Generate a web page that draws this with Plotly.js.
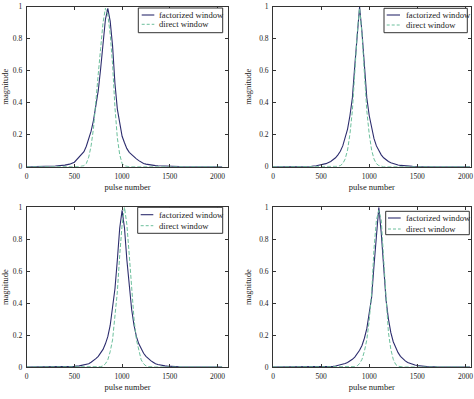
<!DOCTYPE html>
<html>
<head>
<meta charset="utf-8">
<script src="https://cdn.plot.ly/plotly-3.0.1.min.js"></script>
<style>html,body{margin:0;padding:0;background:#fff;}#chart{width:474px;height:399px;}</style>
</head>
<body>
<div id="chart"></div>
<script>
// ---------- data ----------
const pulse = [0,100,200,300,400,450,500,550,600,625,650,675,700,725,750,775,800,825,850,875,900,925,950,975,1000,1025,1050,1075,1100,1125,1150,1175,1200,1225,1250,1275,1300,1325,1350,1375,1400,1425,1450,1475,1500,1550,1600,1700,1800,1900,2000,2048];

const seriesNames = ["factorized window", "direct window"];

// panel 1 (top left)
const p1Factorized = [0,0,0.001,0.004,0.01,0.016,0.028,0.06,0.094,0.128,0.172,0.222,0.29,0.37,0.475,0.612,0.79,0.92,0.99,0.91,0.755,0.52,0.36,0.262,0.19,0.15,0.113,0.09,0.075,0.062,0.049,0.038,0.028,0.02,0.016,0.013,0.01,0.008,0.007,0.006,0.005,0.004,0.003,0.002,0.0015,0.001,0.0005,0,0,0,0,0];
const p1Direct = [0,0,0,0,0,0,0,0.001,0.006,0.02,0.06,0.13,0.24,0.39,0.58,0.74,0.9,0.99,0.95,0.83,0.64,0.37,0.18,0.075,0.02,0.005,0.001,0,0,0,0,0,0,0,0,0,0,0,0,0,0,0,0,0,0,0,0,0,0,0,0,0];

// panel 2 (top right)
const p2Factorized = [0,0,0,0.001,0.003,0.006,0.011,0.019,0.033,0.043,0.056,0.074,0.097,0.13,0.175,0.235,0.32,0.43,0.63,0.84,1.0,0.84,0.63,0.43,0.32,0.235,0.175,0.13,0.097,0.074,0.056,0.043,0.033,0.025,0.019,0.015,0.011,0.008,0.006,0.0045,0.003,0.0025,0.002,0.0015,0.001,0.0007,0.0005,0,0,0,0,0];
const p2Direct = [0,0,0,0,0,0,0,0,0,0,0,0.002,0.007,0.019,0.048,0.104,0.205,0.35,0.585,0.83,0.99,0.83,0.585,0.35,0.205,0.104,0.048,0.019,0.007,0.002,0,0,0,0,0,0,0,0,0,0,0,0,0,0,0,0,0,0,0,0,0,0];

// panel 3 (bottom left)
const p3Factorized = [0,0,0,0,0.0015,0.0028,0.004,0.007,0.012,0.016,0.02,0.03,0.04,0.052,0.067,0.086,0.11,0.145,0.19,0.26,0.36,0.49,0.67,0.87,0.98,0.87,0.67,0.49,0.36,0.26,0.19,0.145,0.11,0.086,0.067,0.052,0.04,0.03,0.02,0.016,0.012,0.0095,0.007,0.0055,0.004,0.0028,0.0015,0,0,0,0,0];
const p3Direct = [0,0,0,0,0,0,0,0,0,0,0,0,0,0,0,0.002,0.007,0.02,0.045,0.096,0.17,0.30,0.47,0.70,0.89,1.0,0.89,0.70,0.47,0.30,0.17,0.096,0.045,0.02,0.007,0.002,0,0,0,0,0,0,0,0,0,0,0,0,0,0,0,0];

// panel 4 (bottom right)
const p4Factorized = [0,0,0,0,0,0.0005,0.001,0.002,0.003,0.004,0.006,0.009,0.013,0.017,0.022,0.028,0.037,0.048,0.062,0.08,0.105,0.135,0.18,0.24,0.325,0.435,0.635,0.84,1.0,0.84,0.62,0.42,0.3,0.215,0.158,0.118,0.09,0.067,0.05,0.038,0.028,0.021,0.016,0.012,0.009,0.005,0.0025,0.0008,0,0,0,0];
const p4Direct = [0,0,0,0,0,0,0,0,0,0,0,0,0,0,0,0,0,0,0.002,0.007,0.021,0.048,0.098,0.17,0.29,0.46,0.74,0.92,0.98,0.92,0.71,0.44,0.215,0.11,0.048,0.016,0.005,0.001,0,0,0,0,0,0,0,0,0,0,0,0,0,0];

const xTickVals = [0,500,1000,1500,2000];
const xTickText = ["0","500","1000","1500","2000"];
const yTickVals = [0,0.2,0.4,0.6,0.8,1];
const yTickText = ["0","0.2","0.4","0.6","0.8","1"];
const xTitle = "pulse number";
const yTitle = "magnitude";

// ---------- styling ----------
const W = 474, H = 399;
const colFact = "#2d2d6e", colDir = "#6cbf9c";
const serif = "Liberation Serif, Times New Roman, serif";
const axColor = "#333";

const panels = [
  {f:p1Factorized, d:p1Direct, xd:[26.7,228.3], yd:[6.7,166.7], xr:2113,
   leg:{box:[138.3,8,222.7,32.7], rows:[15,24.3], line:[141.7,154.3], tx:157}},
  {f:p2Factorized, d:p2Direct, xd:[273,470.5], yd:[6.7,166.7], xr:2053,
   leg:{box:[384,8.3,467.3,32.7], rows:[15,25], line:[386.7,400], tx:404}},
  {f:p3Factorized, d:p3Direct, xd:[26.7,228.3], yd:[207.2,367], xr:2113,
   leg:{box:[137.7,207.3,222.7,233.3], rows:[214.7,225.7], line:[140.7,153.3], tx:156.7}},
  {f:p4Factorized, d:p4Direct, xd:[273,470.5], yd:[207.2,367], xr:2053,
   leg:{box:[385.7,211.3,469.3,234.7], rows:[218,229], line:[388,400.7], tx:404}}
];

const px = x => x / W;
const py = y => 1 - y / H;

const traces = [];
const layout = {
  width: W, height: H,
  margin: {l:0, r:0, t:0, b:0},
  paper_bgcolor: "#fff", plot_bgcolor: "#fff",
  showlegend: false,
  shapes: [], annotations: []
};

panels.forEach((p, i) => {
  const n = i + 1;
  const xa = "x" + (n === 1 ? "" : n), ya = "y" + (n === 1 ? "" : n);
  traces.push({x: pulse, y: p.f, xaxis: xa, yaxis: ya, type: "scatter", mode: "lines",
    name: seriesNames[0], line: {color: colFact, width: 1.1}, hoverinfo: "skip"});
  traces.push({x: pulse, y: p.d, xaxis: xa, yaxis: ya, type: "scatter", mode: "lines",
    name: seriesNames[1], line: {color: colDir, width: 1, dash: "4px,2px"}, hoverinfo: "skip"});

  const common = {
    showline: true, linecolor: axColor, linewidth: 1, mirror: "ticks",
    ticks: "inside", ticklen: 3, tickcolor: axColor, tickwidth: 1,
    showgrid: false, zeroline: false, automargin: false, fixedrange: true,
    tickfont: {family: serif, size: 7.5, color: "#222"}, tickmode: "array"
  };
  layout["xaxis" + (n === 1 ? "" : n)] = Object.assign({}, common, {
    domain: [px(p.xd[0]), px(p.xd[1])], range: [0, p.xr], anchor: ya,
    tickvals: xTickVals, ticktext: xTickText, ticklabelstandoff: 2,
    title: {text: xTitle, font: {family: serif, size: 8.5, color: "#222"}, standoff: 4}
  });
  layout["yaxis" + (n === 1 ? "" : n)] = Object.assign({}, common, {
    domain: [py(p.yd[1]), py(p.yd[0])], range: [0, 1], anchor: xa,
    tickvals: yTickVals, ticktext: yTickText, ticklabelstandoff: 2,
    title: {text: yTitle, font: {family: serif, size: 8.5, color: "#222"}, standoff: 6}
  });

  // legend box drawn per panel
  const L = p.leg;
  layout.shapes.push({type: "rect", xref: "paper", yref: "paper",
    x0: px(L.box[0]), x1: px(L.box[2]), y0: py(L.box[3]), y1: py(L.box[1]),
    line: {color: axColor, width: 1}, fillcolor: "#fff", layer: "above"});
  [[colFact, null], [colDir, "dash"]].forEach((c, k) => {
    layout.shapes.push({type: "line", xref: "paper", yref: "paper",
      x0: px(L.line[0]), x1: px(L.line[1]), y0: py(L.rows[k]), y1: py(L.rows[k]),
      line: {color: c[0], width: k === 0 ? 1.1 : 1, dash: k === 0 ? "solid" : "3px,2px"}, layer: "above"});
    layout.annotations.push({xref: "paper", yref: "paper", x: px(L.tx), y: py(L.rows[k]),
      xanchor: "left", yanchor: "middle", showarrow: false, text: seriesNames[k],
      font: {family: serif, size: 8.6, color: "#222"}});
  });
});

Plotly.newPlot("chart", traces, layout, {staticPlot: true, displayModeBar: false});
</script>
</body>
</html>
